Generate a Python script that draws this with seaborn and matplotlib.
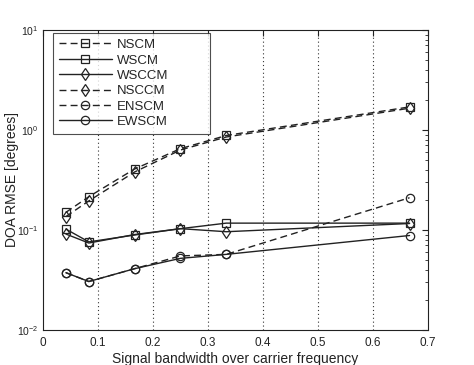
import numpy as np
import pandas as pd
import matplotlib
matplotlib.use("Agg")
import matplotlib.pyplot as plt
import seaborn as sns
from matplotlib.ticker import LogLocator, NullFormatter

sns.set_style("white")
plt.rcParams['font.family'] = ['Liberation Sans', 'DejaVu Sans']
plt.rcParams['mathtext.fontset'] = 'custom'
plt.rcParams['mathtext.rm'] = 'Liberation Sans'

x = [1/24, 1/12, 1/6, 1/4, 1/3, 2/3]
labels = ["NSCM", "WSCM", "WSCCM", "NSCCM", "ENSCM", "EWSCM"]
nscm  = [0.150, 0.215, 0.407, 0.65, 0.88, 1.70]
wscm  = [0.102, 0.076, 0.089, 0.103, 0.117, 0.117]
wsccm = [0.091, 0.074, 0.090, 0.103, 0.096, 0.116]
nsccm = [0.136, 0.195, 0.380, 0.63, 0.85, 1.65]
enscm = [0.0374, 0.0305, 0.041, 0.055, 0.057, 0.21]
ewscm = [0.0374, 0.0305, 0.041, 0.052, 0.057, 0.088]
values = [nscm, wscm, wsccm, nsccm, enscm, ewscm]
markers = ["s", "s", "d", "d", "o", "o"]
dashed = [True, False, False, True, True, False]

fig = plt.figure(figsize=(4.74, 3.65), dpi=100)
ax = fig.add_axes([0.0907, 0.096, 0.812, 0.822])

for lab, vals, m, d in zip(labels, values, markers, dashed):
    df = pd.DataFrame({"x": x, "y": vals})
    sns.lineplot(data=df, x="x", y="y", ax=ax, color="#222222",
                 marker=m, markersize=6, markerfacecolor="none",
                 markeredgecolor="#222222", markeredgewidth=0.9,
                 linewidth=1.0, linestyle=(0, (5, 3)) if d else "-",
                 label=lab)

ax.set_yscale("log")
ax.set_xlim(0, 0.7)
ax.set_ylim(1e-2, 1e1)
ax.set_xticks([0, 0.1, 0.2, 0.3, 0.4, 0.5, 0.6, 0.7])
ax.set_xticklabels(["0", "0.1", "0.2", "0.3", "0.4", "0.5", "0.6", "0.7"])
ax.yaxis.set_major_locator(LogLocator(base=10, numticks=10))
ax.yaxis.set_minor_locator(LogLocator(base=10, subs=np.arange(2, 10), numticks=10))
ax.yaxis.set_minor_formatter(NullFormatter())
for xv in [0.1, 0.2, 0.3, 0.4, 0.5, 0.6]:
    ax.axvline(xv, color="#333333", linestyle=(0, (1, 2.5)), linewidth=0.8, zorder=0)

ax.tick_params(axis="both", which="both", direction="in", top=True, right=True,
               colors="#222222")
ax.tick_params(axis="x", labelsize=8.5, pad=5)
ax.tick_params(axis="y", labelsize=7.5, pad=3)
ax.tick_params(which="major", length=4)
ax.tick_params(which="minor", length=2)
for s in ax.spines.values():
    s.set_color("#222222")
    s.set_linewidth(0.8)

ax.set_xlabel("Signal bandwidth over carrier frequency", fontsize=10, color="#222222", labelpad=2)
ax.set_ylabel("DOA RMSE [degrees]", fontsize=10, color="#222222")
ax.yaxis.set_label_coords(-0.062, 0.5)

leg = ax.legend(loc="upper left", bbox_to_anchor=(0.026, 0.66, 0.408, 0.33),
                mode="expand", fontsize=9.5,
                frameon=True, fancybox=False, edgecolor="#222222",
                handlelength=4.0, labelspacing=0.24, borderpad=0.45,
                borderaxespad=0, handletextpad=0.4)
leg.get_frame().set_linewidth(0.8)

fig.savefig("out.png", dpi=100)
